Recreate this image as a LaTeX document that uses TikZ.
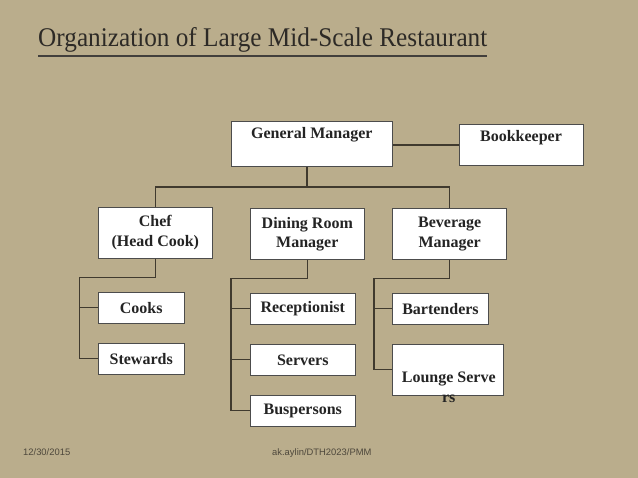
\documentclass[tikz,border=0pt]{standalone}
\usepackage{fontspec}
\setmainfont{Liberation Serif}
\newfontfamily\footfont{Liberation Sans}
\definecolor{bgtan}{RGB}{186,173,140}
\definecolor{boxtxt}{RGB}{36,36,36}
\definecolor{linec}{RGB}{64,58,46}
\definecolor{titlec}{RGB}{45,42,38}
\definecolor{footc}{RGB}{78,72,60}
\begin{document}
\begin{tikzpicture}[x=1pt,y=-1pt,
  box/.style={draw=black!70, line width=0.9pt, fill=white, inner sep=0pt, text=boxtxt,
    font=\fontsize{16}{19.5}\selectfont\bfseries, align=center},
  btxt/.style={inner sep=0pt, text=boxtxt, font=\fontsize{16}{19.5}\selectfont\bfseries, align=center},
  conn/.style={draw=linec, line width=1.1pt},
  foot/.style={inner sep=0pt, text=footc, font=\footfont\fontsize{9.4}{10}\selectfont}]
\fill[bgtan] (0,0) rectangle (638,478);
\useasboundingbox (0,0) rectangle (638,478);
% title
\node[anchor=base west, inner sep=0pt, text=titlec, font=\fontsize{27}{30}\selectfont] (title) at (38,47) {\scalebox{0.935}[1]{Organization of Large Mid-Scale Restaurant}};
\draw[draw=titlec!90, line width=2.2pt] (38,55.8) -- (487,55.8);
% boxes
\node[box, minimum width=161.7, minimum height=45.7] (gm) at (311.8,144) {};
\node[btxt] (gmT) at (311.8,135) {General Manager};
\node[box, minimum width=124, minimum height=41] (bk) at (521,144.5) {};
\node[btxt] (bkT) at (521,138) {Bookkeeper};
\node[box, minimum width=114, minimum height=51] (chef) at (155.3,232.8) {Chef\\(Head Cook)};
\node[box, minimum width=113.3, minimum height=50.6] (drm) at (307.3,234) {Dining Room\\Manager};
\node[box, minimum width=114, minimum height=50.6] (bev) at (449.7,234) {Beverage\\Manager};
\node[box, minimum width=85.7, minimum height=31] (cooks) at (141.2,307.8) {Cooks};
\node[box, minimum width=85.7, minimum height=31] (stew) at (141.2,358.8) {Stewards};
\node[box, minimum width=104.3, minimum height=31] (rec) at (302.8,308.8) {Receptionist};
\node[box, minimum width=104.3, minimum height=31] (serv) at (302.8,359.8) {Servers};
\node[box, minimum width=104.3, minimum height=30.7] (busp) at (302.8,410.7) {Buspersons};
\node[box, minimum width=95.6, minimum height=31] (bart) at (440.5,308.8) {Bartenders};
\node[box, minimum width=110.6, minimum height=51] (lounge) at (448,369.8) {};
\node[btxt] (loungeT) at (448.8,387.5) {Lounge Serve\\rs};
% connectors
\draw[conn] (gm.east |- 0,145) -- (bk.west |- 0,145);
\coordinate (gmb) at (307,187);
\draw[conn] (gmb |- gm.south) -- (gmb);
\draw[conn] (chef.north) -- (chef.north |- gmb) -- (bev.north |- gmb) -- (bev.north);
\coordinate (cl) at (79.3,277.7);
\draw[conn] (chef.south) |- (cl) -- (cl |- stew.west) -- (stew.west);
\draw[conn] (cl |- cooks.west) -- (cooks.west);
\coordinate (dl) at (231,278.3);
\draw[conn] (drm.south) |- (dl) -- (dl |- busp.west) -- (busp.west);
\draw[conn] (dl |- rec.west) -- (rec.west);
\draw[conn] (dl |- serv.west) -- (serv.west);
\coordinate (bl) at (374,278.3);
\draw[conn] (bev.south) |- (bl) -- (bl |- lounge.west) -- (lounge.west);
\draw[conn] (bl |- bart.west) -- (bart.west);
% footer
\node[foot, anchor=base west] (date) at (23,455.2) {12/30/2015};
\node[foot, anchor=base west] (auth) at (272,455.2) {ak.aylin/DTH2023/PMM};
\end{tikzpicture}
\end{document}
